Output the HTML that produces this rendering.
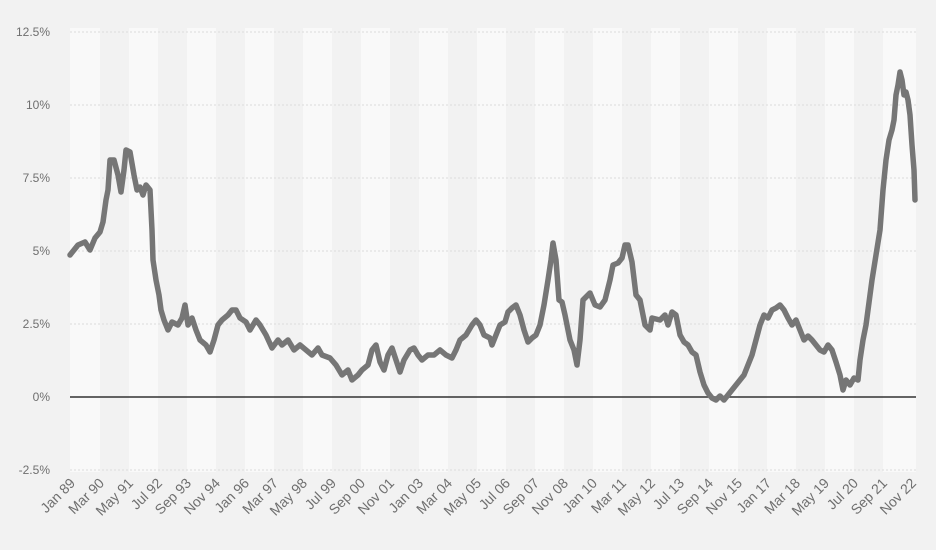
<!DOCTYPE html>
<html><head><meta charset="utf-8"><style>
html,body{margin:0;padding:0;background:#f1f1f1;}
svg{display:block;font-family:"Liberation Sans",sans-serif;}
</style></head><body>
<svg width="936" height="550" viewBox="0 0 936 550" xmlns="http://www.w3.org/2000/svg">
<rect width="936" height="550" fill="#f2f2f2"/>
<rect x="70" y="28" width="846" height="444" fill="#f9f9f9"/>
<g fill="#f2f2f2">
<rect x="100" y="28" width="29" height="444"/><rect x="158" y="28" width="29" height="444"/>
<rect x="216" y="28" width="29" height="444"/><rect x="274" y="28" width="29" height="444"/>
<rect x="332" y="28" width="29" height="444"/><rect x="390" y="28" width="29" height="444"/>
<rect x="448" y="28" width="29" height="444"/><rect x="506" y="28" width="29" height="444"/>
<rect x="564" y="28" width="29" height="444"/><rect x="622" y="28" width="29" height="444"/>
<rect x="680" y="28" width="29" height="444"/><rect x="738" y="28" width="29" height="444"/>
<rect x="796" y="28" width="29" height="444"/><rect x="854" y="28" width="29" height="444"/>
</g>
<g stroke="#dcdcdc" stroke-width="1" stroke-dasharray="2,2">
<line x1="70" y1="32" x2="916" y2="32"/><line x1="70" y1="105" x2="916" y2="105"/>
<line x1="70" y1="178" x2="916" y2="178"/><line x1="70" y1="251" x2="916" y2="251"/>
<line x1="70" y1="324" x2="916" y2="324"/><line x1="70" y1="470" x2="916" y2="470"/>
</g>
<line x1="70" y1="397" x2="916" y2="397" stroke="#333" stroke-width="1.5"/>
<g font-size="12" fill="#6f6f6f" text-anchor="end">
<text x="50" y="36">12.5%</text><text x="50" y="109">10%</text><text x="50" y="182">7.5%</text>
<text x="50" y="255">5%</text><text x="50" y="328">2.5%</text><text x="50" y="401">0%</text>
<text x="50" y="474">-2.5%</text>
</g>
<polyline fill="none" stroke="#767676" stroke-width="5.5" stroke-linejoin="round" stroke-linecap="round" points="70,255 78,245 85,242 90,250 95,238 100,232 103,222 106,200 108,190 110,160 114,160 118,175 121,192 124,170 126,150 130,152 134,175 137,190 140,187 143,195 146,185 150,190 152,230 153,260 156,280 159,295 161,310 164,320 168,330 172,322 178,325 182,318 185,305 188,325 192,318 196,330 200,340 206,345 210,352 214,340 218,325 222,320 228,315 232,310 236,310 240,318 246,322 250,330 256,320 260,325 266,335 272,348 278,340 282,345 288,340 294,350 300,345 306,350 312,355 318,348 322,355 330,358 336,365 342,375 348,370 352,380 358,375 362,370 368,365 372,350 376,345 380,362 384,370 388,355 392,348 396,360 400,372 404,360 410,350 414,348 418,355 422,360 428,355 434,355 440,350 446,355 452,358 456,350 460,340 466,335 472,325 476,320 480,325 484,335 490,338 492,345 496,335 500,325 505,322 508,312 512,308 516,305 520,315 524,330 528,342 532,338 536,335 540,325 544,305 548,280 551,260 553,243 556,260 559,300 562,302 565,315 570,340 574,350 577,365 580,340 583,300 590,293 595,305 600,307 605,300 610,280 613,265 618,263 622,258 625,245 628,245 632,262 636,295 640,300 645,325 650,330 652,318 660,320 665,315 668,325 672,312 676,315 680,335 684,342 688,345 692,352 696,355 700,372 704,385 708,393 712,398 716,400 720,396 724,400 728,395 732,390 736,385 740,380 744,375 748,365 752,355 756,340 760,325 764,315 768,318 772,310 776,308 780,305 784,310 788,318 792,325 796,320 800,330 804,340 808,336 812,340 816,345 820,350 824,352 828,345 832,350 836,362 840,375 843,390 846,380 850,385 854,378 858,380 860,360 863,340 866,325 868,310 872,280 876,255 880,230 883,190 886,160 889,140 892,130 894,120 896,95 898,85 900,72 902,80 904,95 906,92 908,100 910,115 912,145 914,170 915,200"/>
<g font-size="14" fill="#6f6f6f" text-anchor="end">
<text transform="translate(76,484) rotate(-45)">Jan 89</text>
<text transform="translate(105,484) rotate(-45)">Mar 90</text>
<text transform="translate(134,484) rotate(-45)">May 91</text>
<text transform="translate(163,484) rotate(-45)">Jul 92</text>
<text transform="translate(192,484) rotate(-45)">Sep 93</text>
<text transform="translate(221,484) rotate(-45)">Nov 94</text>
<text transform="translate(250,484) rotate(-45)">Jan 96</text>
<text transform="translate(279,484) rotate(-45)">Mar 97</text>
<text transform="translate(308,484) rotate(-45)">May 98</text>
<text transform="translate(337,484) rotate(-45)">Jul 99</text>
<text transform="translate(366,484) rotate(-45)">Sep 00</text>
<text transform="translate(395,484) rotate(-45)">Nov 01</text>
<text transform="translate(424,484) rotate(-45)">Jan 03</text>
<text transform="translate(453,484) rotate(-45)">Mar 04</text>
<text transform="translate(482,484) rotate(-45)">May 05</text>
<text transform="translate(511,484) rotate(-45)">Jul 06</text>
<text transform="translate(540,484) rotate(-45)">Sep 07</text>
<text transform="translate(569,484) rotate(-45)">Nov 08</text>
<text transform="translate(598,484) rotate(-45)">Jan 10</text>
<text transform="translate(627,484) rotate(-45)">Mar 11</text>
<text transform="translate(656,484) rotate(-45)">May 12</text>
<text transform="translate(685,484) rotate(-45)">Jul 13</text>
<text transform="translate(714,484) rotate(-45)">Sep 14</text>
<text transform="translate(743,484) rotate(-45)">Nov 15</text>
<text transform="translate(772,484) rotate(-45)">Jan 17</text>
<text transform="translate(801,484) rotate(-45)">Mar 18</text>
<text transform="translate(830,484) rotate(-45)">May 19</text>
<text transform="translate(859,484) rotate(-45)">Jul 20</text>
<text transform="translate(888,484) rotate(-45)">Sep 21</text>
<text transform="translate(917,484) rotate(-45)">Nov 22</text>
</g>
</svg>
</body></html>
